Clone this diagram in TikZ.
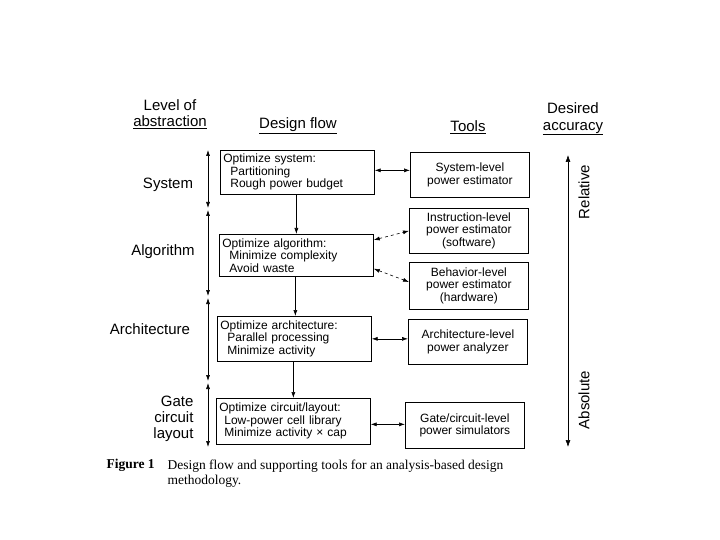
\documentclass[tikz,border=0pt]{standalone}
\usepackage{fontspec}
\setmainfont{Liberation Sans}
\newfontfamily\capfont{Liberation Serif}
\usetikzlibrary{arrows.meta}
\begin{document}
\begin{tikzpicture}[x=1pt,y=-1pt,
  flow/.style={draw,line width=0.7pt,minimum height=44pt,text width=148pt,align=left,inner sep=3pt,anchor=north west,font=\fontsize{12}{12.5}\selectfont},
  tool/.style={draw,line width=0.7pt,minimum width=119pt,minimum height=45pt,align=center,inner sep=1pt,anchor=north west,font=\fontsize{12}{12.5}\selectfont},
  hdr/.style={font=\fontsize{15}{16.5}\selectfont,align=center},
  lvl/.style={font=\fontsize{15}{16}\selectfont},
  arr/.style={-{Latex[length=6pt,width=4pt]},line width=0.6pt},
  biarr/.style={{Latex[length=6pt,width=4pt]}-{Latex[length=6pt,width=4pt]},line width=0.6pt}]
\useasboundingbox (0,0) rectangle (720,540);
% headers
\node[hdr] (h1) at (170,114) {Level of\\\underline{abstraction}};
\node[hdr] (h2) at (298,126) {\underline{Design flow}};
\node[hdr] (h3) at (468,127) {\underline{Tools}};
\node[hdr] (h4) at (573,119) {Desired\\\underline{accuracy}};
% level arrows
\coordinate (l0) at (208,150); \coordinate (l1) at (208,208);
\coordinate (l1b) at (208,210); \coordinate (l2) at (208,296);
\coordinate (l2b) at (208,298); \coordinate (l3) at (208,381);
\coordinate (l3b) at (208,383); \coordinate (l4) at (208,447);
\draw[biarr] (l0) -- (l1);
\draw[biarr] (l1b) -- (l2);
\draw[biarr] (l2b) -- (l3);
\draw[biarr] (l3b) -- (l4);
\node[lvl] (s) at (168,185) {System};
\node[lvl] (a) at (163,252) {Algorithm};
\node[lvl] (ar) at (150,329) {Architecture};
\node[lvl,align=right,anchor=east] (g) at (197,419) {Gate\\circuit\\layout};
% flow boxes
\node[flow] (f1) at (220,150) {Optimize system:\\\hspace{7pt}Partitioning\\\hspace{7pt}Rough power budget};
\node[flow,minimum height=42pt] (f2) at (219,234) {Optimize algorithm:\\\hspace{7pt}Minimize complexity\\\hspace{7pt}Avoid waste};
\node[flow,minimum height=45pt] (f3) at (217,316) {Optimize architecture:\\\hspace{7pt}Parallel processing\\\hspace{7pt}Minimize activity};
\node[flow,minimum height=46pt] (f4) at (216,398) {Optimize circuit/layout:\\\hspace{5pt}Low-power cell library\\\hspace{5pt}Minimize activity × cap};
\draw[arr] (f1.south) ++(-1,0) coordinate (c1) -- (c1 |- f2.north);
\draw[arr] (f2.south) ++(-1,0) coordinate (c2) -- (c2 |- f3.north);
\draw[arr] (f3.south) ++(-1,0) coordinate (c3) -- (c3 |- f4.north);
% tools
\node[tool] (t1) at (410,152) {System-level\\power estimator};
\node[tool] (t2) at (409,208) {Instruction-level\\power estimator\\(software)};
\node[tool,minimum height=47pt] (t3) at (409,262) {Behavior-level\\power estimator\\(hardware)};
\node[tool] (t4) at (408,319) {Architecture-level\\power analyzer};
\node[tool,minimum height=46pt] (t5) at (405,402) {Gate/circuit-level\\power simulators};
\draw[biarr] (f1.east) ++(0,-2) coordinate (d1) -- (d1 -| t1.west);
\draw[biarr,dashed] ([yshift=-6pt]f2.north east) -- (t2.west);
\draw[biarr,dashed] ([yshift=8pt]f2.south east) -- ([yshift=-20pt]t3.north west);
\draw[biarr] (f3.east) coordinate (d3) -- (d3 -| t4.west);
\draw[biarr] (f4.east) ++(0,3) coordinate (d4) -- (d4 -| t5.west);
% accuracy
\coordinate (acT) at (568,155); \coordinate (acB) at (568,447);
\draw[{Latex[length=7pt,width=5pt]}-{Latex[length=7pt,width=5pt]},line width=0.6pt] (acT) -- (acB);
\node[lvl,rotate=90] (rel) at (584,192) {Relative};
\node[lvl,rotate=90] (abs) at (584,400) {Absolute};
% caption
\node[anchor=north west,font=\capfont\bfseries\fontsize{13.5}{15}\selectfont] (fig) at (103,456) {Figure 1};
\node[anchor=north west,align=left,font=\capfont\fontsize{13.5}{15.5}\selectfont] (cap) at (164,456) {Design flow and supporting tools for an analysis-based design\\methodology.};
\end{tikzpicture}
\end{document}
